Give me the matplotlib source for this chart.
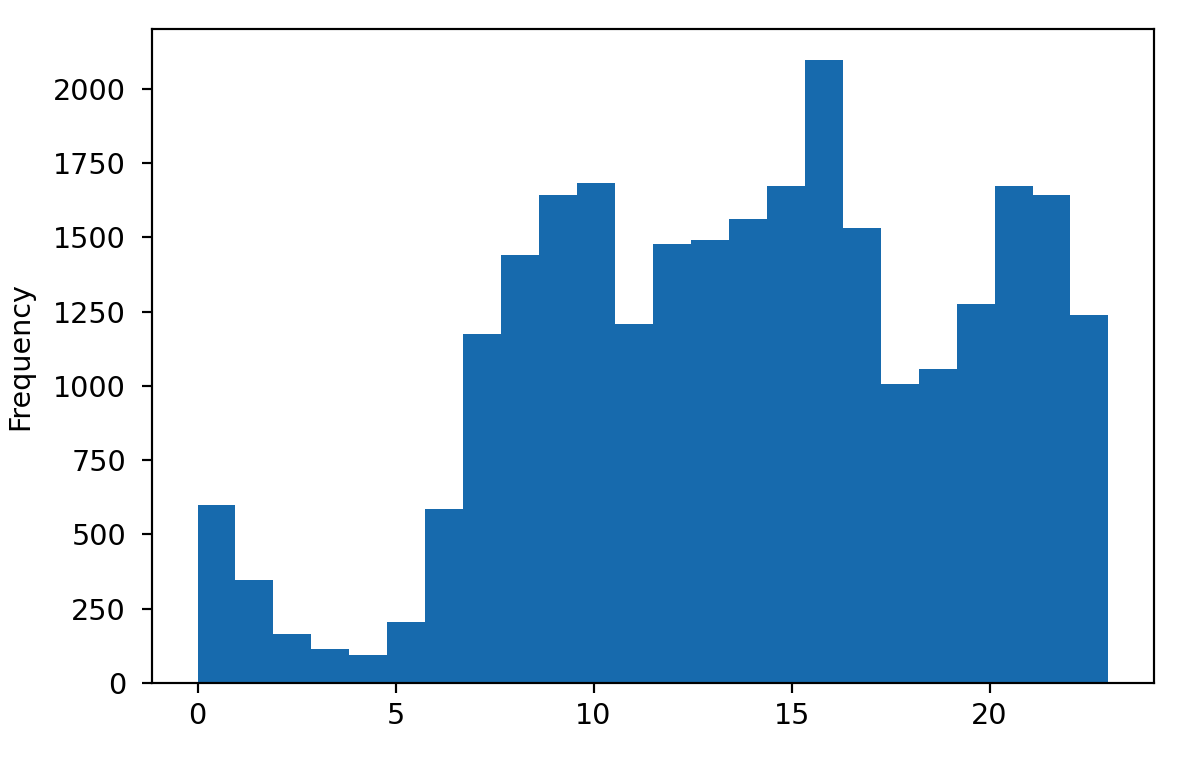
import numpy as np
import pandas as pd
import matplotlib
matplotlib.use("Agg")
import matplotlib.pyplot as plt

# hour of day and how many records fell in each hour
hours = list(range(24))
counts = [598, 347, 165, 113, 95, 205, 586, 1176, 1439, 1641, 1681, 1207,
          1478, 1490, 1560, 1672, 2096, 1530, 1006, 1055, 1277, 1672, 1642, 1237]

# rebuild the raw hour column so pandas can bin it itself
df = pd.DataFrame({'hour': np.repeat(hours, counts)})

plt.rcParams['font.size'] = 10.5
plt.rcParams['ytick.major.pad'] = 6

fig = plt.figure(figsize=(1178 / 196.3, 757 / 196.3), dpi=196.3)
ax = fig.add_axes([0.129, 0.0978, 0.8506, 0.8639])
df['hour'].plot.hist(bins=24, ax=ax, color='#176aad')

ax.set_ylabel('Frequency', labelpad=7)
ax.set_xticks([0, 5, 10, 15, 20])

fig.savefig('out.png', dpi=196.3)
